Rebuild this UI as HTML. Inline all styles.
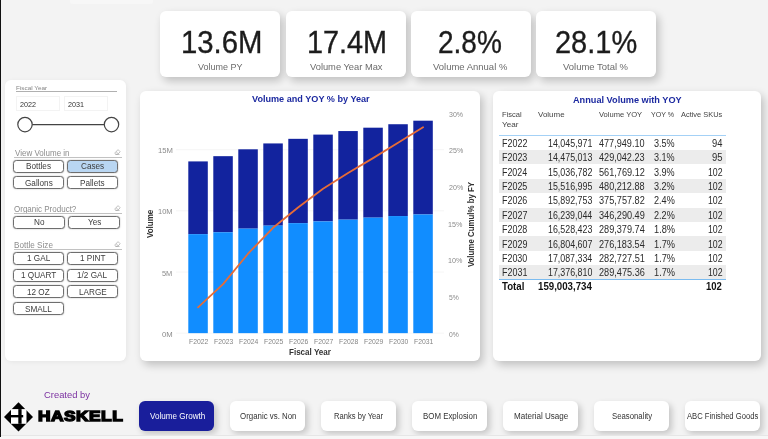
<!DOCTYPE html>
<html lang="en"><head><meta charset="utf-8"><title>Volume Growth</title>
<style>
html,body{margin:0;padding:0}
html{background:#f3f3f3}
body{width:768px;height:439px;position:relative;overflow:hidden;background:#f3f3f3;font-family:"Liberation Sans",sans-serif}
.page{position:absolute;left:0;top:0;width:768px;height:439px;filter:blur(0.55px)}
.abs{position:absolute;overflow:visible}
.t{position:absolute;white-space:nowrap;transform-origin:0 50%;display:block}
.card{position:absolute;background:#fff;border-radius:6px;box-shadow:3px 4px 8px rgba(0,0,0,.21)}
.slicers{box-shadow:1px 1px 5px rgba(0,0,0,.06)}
.ul{position:absolute;height:1px}
.inp{position:absolute;box-sizing:border-box;border:1px solid #f3f3f3;background:#fff}
.sb{position:absolute;box-sizing:border-box;border:1.2px solid #6e6e6e;border-radius:3.5px;background:#fff;box-shadow:0 0 1.5px rgba(0,0,0,.35)}
.sb.sel{background:#b9d6f2}
.row{position:absolute}
.nb{position:absolute;background:#fff;border-radius:6px;box-shadow:2.5px 3px 6px rgba(0,0,0,.19)}
.nb.sel{background:#191e9b}
.edgeL{position:absolute;left:0;top:0;width:1.25px;height:437px;background:#111}
.edgeB{position:absolute;left:0;top:434.8px;width:768px;height:5px;background:#f7f7f7;border-top:1px solid #e6e6e6}
</style></head>
<body>
<main class="page">
<section class="kpis">
<div class="card kpi" style="left:160px;top:11px;width:120px;height:66px">
<span class="t" style="left:21.03px;top:16.14px;font-size:31.5px;line-height:31.5px;color:#1c1c1c;transform:scaleX(0.9311);-webkit-text-stroke:0.35px #1c1c1c;">13.6M</span>
<span class="t" style="left:38.16px;top:51.47px;font-size:9.6px;line-height:9.6px;color:#6b6b6b;transform:scaleX(0.9356);">Volume PY</span>
</div>
<div class="card kpi" style="left:285.5px;top:11px;width:120px;height:66px">
<span class="t" style="left:21.57px;top:16.14px;font-size:31.5px;line-height:31.5px;color:#1c1c1c;transform:scaleX(0.9154);-webkit-text-stroke:0.35px #1c1c1c;">17.4M</span>
<span class="t" style="left:24.06px;top:51.47px;font-size:9.6px;line-height:9.6px;color:#6b6b6b;transform:scaleX(0.9707);">Volume Year Max</span>
</div>
<div class="card kpi" style="left:410.5px;top:11px;width:120px;height:66px">
<span class="t" style="left:27.85px;top:16.14px;font-size:31.5px;line-height:31.5px;color:#1c1c1c;transform:scaleX(0.8897);-webkit-text-stroke:0.35px #1c1c1c;">2.8%</span>
<span class="t" style="left:22.76px;top:51.47px;font-size:9.6px;line-height:9.6px;color:#6b6b6b;transform:scaleX(0.9882);">Volume Annual %</span>
</div>
<div class="card kpi" style="left:535.5px;top:11px;width:120px;height:66px">
<span class="t" style="left:19.31px;top:16.14px;font-size:31.5px;line-height:31.5px;color:#1c1c1c;transform:scaleX(0.9198);-webkit-text-stroke:0.35px #1c1c1c;">28.1%</span>
<span class="t" style="left:27.76px;top:51.47px;font-size:9.6px;line-height:9.6px;color:#6b6b6b;transform:scaleX(0.9860);">Volume Total %</span>
</div>
</section>
<aside class="card slicers" style="left:5.3px;top:79.5px;width:120.3px;height:281px">
<span class="t" style="left:10.58px;top:6.01px;font-size:5.9px;line-height:5.9px;color:#858585;transform:scaleX(1.0819);">Fiscal Year</span>
<div class="ul" style="left:11.0px;top:11.700000000000003px;width:100.5px;height:1.3px;background:#b0b0b0"></div>
<div class="inp" style="left:11.0px;top:16.900000000000006px;width:43.4px;height:15px"></div>
<span class="t" style="left:14.34px;top:21.67px;font-size:7.6px;line-height:7.6px;color:#333;transform:scaleX(0.9478);">2022</span>
<div class="inp" style="left:59.10000000000001px;top:16.900000000000006px;width:43.4px;height:15px"></div>
<span class="t" style="left:62.34px;top:21.67px;font-size:7.6px;line-height:7.6px;color:#333;transform:scaleX(0.9469);">2031</span>
<svg class="abs" style="left:4.7px;top:32.5px" width="112" height="24" viewBox="10 112 112 24"><line x1="25" y1="124.6" x2="111.5" y2="124.6" stroke="#444" stroke-width="1.3"/><circle cx="25" cy="124.6" r="7.2" fill="#fff" stroke="#444" stroke-width="1.2"/><circle cx="111.5" cy="124.6" r="7.2" fill="#fff" stroke="#444" stroke-width="1.2"/></svg>
<span class="t" style="left:9.27px;top:69.70px;font-size:8.5px;line-height:8.5px;color:#8c8c8c;transform:scaleX(0.9410);">View Volume in</span>
<svg class="abs" style="left:108.60000000000001px;top:69.4px" width="6.8" height="6.2" viewBox="0 0 16 14"><path d="M9.5 1.2 L14.6 6.3 L8.6 12.3 H4.6 L1.6 9.3 Z M4.9 6 L10 11 M3 12.6 H13" fill="none" stroke="#a8a8a8" stroke-width="1.7" stroke-linejoin="round"/></svg>
<div class="ul" style="left:9.2px;top:77.5px;width:107.5px;background:#c2c2c2"></div>
<div class="sb" style="left:7.8px;top:80.5px;width:50.8px;height:13px"></div>
<span class="t" style="left:20.50px;top:82.85px;font-size:8.8px;line-height:8.8px;color:#3c3c3c;transform:scaleX(0.9300);">Bottles</span>
<div class="sb sel" style="left:61.8px;top:80.5px;width:50.900000000000006px;height:13px"></div>
<span class="t" style="left:75.60px;top:82.85px;font-size:8.8px;line-height:8.8px;color:#3c3c3c;transform:scaleX(0.9300);">Cases</span>
<div class="sb" style="left:7.8px;top:96.9px;width:50.8px;height:13.0px"></div>
<span class="t" style="left:19.27px;top:99.25px;font-size:8.8px;line-height:8.8px;color:#3c3c3c;transform:scaleX(0.9300);">Gallons</span>
<div class="sb" style="left:61.8px;top:96.9px;width:50.900000000000006px;height:13.0px"></div>
<span class="t" style="left:74.78px;top:99.25px;font-size:8.8px;line-height:8.8px;color:#3c3c3c;transform:scaleX(0.9300);">Pallets</span>
<span class="t" style="left:8.92px;top:125.30px;font-size:8.5px;line-height:8.5px;color:#8c8c8c;transform:scaleX(0.9421);">Organic Product?</span>
<svg class="abs" style="left:108.60000000000001px;top:125.0px" width="6.8" height="6.2" viewBox="0 0 16 14"><path d="M9.5 1.2 L14.6 6.3 L8.6 12.3 H4.6 L1.6 9.3 Z M4.9 6 L10 11 M3 12.6 H13" fill="none" stroke="#a8a8a8" stroke-width="1.7" stroke-linejoin="round"/></svg>
<div class="ul" style="left:9.2px;top:133.25px;width:107.5px;background:#c2c2c2"></div>
<div class="sb" style="left:7.8px;top:136.1px;width:51.699999999999996px;height:13.099999999999994px"></div>
<span class="t" style="left:28.25px;top:138.50px;font-size:8.8px;line-height:8.8px;color:#3c3c3c;transform:scaleX(0.9300);">No</span>
<div class="sb" style="left:63.10000000000001px;top:136.1px;width:52.0px;height:13.099999999999994px"></div>
<span class="t" style="left:82.48px;top:138.50px;font-size:8.8px;line-height:8.8px;color:#3c3c3c;transform:scaleX(0.9300);">Yes</span>
<span class="t" style="left:8.63px;top:161.30px;font-size:8.5px;line-height:8.5px;color:#8c8c8c;transform:scaleX(0.9581);">Bottle Size</span>
<svg class="abs" style="left:108.60000000000001px;top:161.0px" width="6.8" height="6.2" viewBox="0 0 16 14"><path d="M9.5 1.2 L14.6 6.3 L8.6 12.3 H4.6 L1.6 9.3 Z M4.9 6 L10 11 M3 12.6 H13" fill="none" stroke="#a8a8a8" stroke-width="1.7" stroke-linejoin="round"/></svg>
<div class="ul" style="left:9.2px;top:169.0px;width:107.5px;background:#c2c2c2"></div>
<div class="sb" style="left:7.8px;top:172.5px;width:50.8px;height:13px"></div>
<span class="t" style="left:21.42px;top:174.85px;font-size:8.8px;line-height:8.8px;color:#3c3c3c;transform:scaleX(0.9300);">1 GAL</span>
<div class="sb" style="left:61.8px;top:172.5px;width:50.900000000000006px;height:13px"></div>
<span class="t" style="left:74.30px;top:174.85px;font-size:8.8px;line-height:8.8px;color:#3c3c3c;transform:scaleX(0.9300);">1 PINT</span>
<div class="sb" style="left:7.8px;top:189.2px;width:50.8px;height:13.0px"></div>
<span class="t" style="left:15.32px;top:191.55px;font-size:8.8px;line-height:8.8px;color:#3c3c3c;transform:scaleX(0.9300);">1 QUART</span>
<div class="sb" style="left:61.8px;top:189.2px;width:50.900000000000006px;height:13.0px"></div>
<span class="t" style="left:72.06px;top:191.55px;font-size:8.8px;line-height:8.8px;color:#3c3c3c;transform:scaleX(0.9300);">1/2 GAL</span>
<div class="sb" style="left:7.8px;top:205.89999999999998px;width:50.8px;height:13.0px"></div>
<span class="t" style="left:21.64px;top:208.25px;font-size:8.8px;line-height:8.8px;color:#3c3c3c;transform:scaleX(0.9300);">12 OZ</span>
<div class="sb" style="left:61.8px;top:205.89999999999998px;width:50.900000000000006px;height:13.0px"></div>
<span class="t" style="left:73.21px;top:208.25px;font-size:8.8px;line-height:8.8px;color:#3c3c3c;transform:scaleX(0.9300);">LARGE</span>
<div class="sb" style="left:7.8px;top:222.7px;width:50.8px;height:13.100000000000023px"></div>
<span class="t" style="left:19.73px;top:225.10px;font-size:8.8px;line-height:8.8px;color:#3c3c3c;transform:scaleX(0.9300);">SMALL</span>
</aside>
<section class="card chart" style="left:140px;top:91.25px;width:339.5px;height:269.25px">
<span class="t" style="left:111.55px;top:4.16px;font-size:9.2px;line-height:9.2px;color:#1d2aa0;transform:scaleX(0.9900);font-weight:700;">Volume and YOY % by Year</span>
<svg class="abs" style="left:0;top:0" width="339.5" height="269.25" viewBox="140 91.25 339.5 269.25"><line x1="176" y1="150" x2="444" y2="150" stroke="#f3f3f3" stroke-width="0.8"/><line x1="176" y1="211.1" x2="444" y2="211.1" stroke="#f3f3f3" stroke-width="0.8"/><line x1="176" y1="272.3" x2="444" y2="272.3" stroke="#f3f3f3" stroke-width="0.8"/><line x1="176" y1="333.4" x2="444" y2="333.4" stroke="#f3f3f3" stroke-width="0.8"/><rect x="188.30" y="161.66" width="19.5" height="72.74" fill="#12239e"/><rect x="188.30" y="234.40" width="19.5" height="99.00" fill="#118dff"/><rect x="213.30" y="156.42" width="19.5" height="76.08" fill="#12239e"/><rect x="213.30" y="232.50" width="19.5" height="100.90" fill="#118dff"/><rect x="238.30" y="149.55" width="19.5" height="79.35" fill="#12239e"/><rect x="238.30" y="228.90" width="19.5" height="104.50" fill="#118dff"/><rect x="263.30" y="143.68" width="19.5" height="82.22" fill="#12239e"/><rect x="263.30" y="225.90" width="19.5" height="107.50" fill="#118dff"/><rect x="288.30" y="139.08" width="19.5" height="84.32" fill="#12239e"/><rect x="288.30" y="223.40" width="19.5" height="110.00" fill="#118dff"/><rect x="313.30" y="134.85" width="19.5" height="86.80" fill="#12239e"/><rect x="313.30" y="221.65" width="19.5" height="111.75" fill="#118dff"/><rect x="338.30" y="131.31" width="19.5" height="88.59" fill="#12239e"/><rect x="338.30" y="219.90" width="19.5" height="113.50" fill="#118dff"/><rect x="363.30" y="127.94" width="19.5" height="89.96" fill="#12239e"/><rect x="363.30" y="217.90" width="19.5" height="115.50" fill="#118dff"/><rect x="388.30" y="124.48" width="19.5" height="91.82" fill="#12239e"/><rect x="388.30" y="216.30" width="19.5" height="117.10" fill="#118dff"/><rect x="413.30" y="120.94" width="19.5" height="93.76" fill="#12239e"/><rect x="413.30" y="214.70" width="19.5" height="118.70" fill="#118dff"/><polyline points="198.05,307.56 223.05,284.36 248.05,253.98 273.05,228.01 298.05,207.69 323.05,188.97 348.05,173.32 373.05,158.39 398.05,143.10 423.05,127.45" fill="none" stroke="#e66c37" stroke-width="1.8" stroke-linejoin="round" stroke-linecap="round"/></svg>
<span class="t" style="left:17.67px;top:55.99px;font-size:7.4px;line-height:7.4px;color:#8a8a8a;transform:scaleX(1.0398);">15M</span>
<span class="t" style="left:18.03px;top:117.09px;font-size:7.4px;line-height:7.4px;color:#8a8a8a;transform:scaleX(1.0133);">10M</span>
<span class="t" style="left:22.30px;top:178.29px;font-size:7.4px;line-height:7.4px;color:#8a8a8a;transform:scaleX(1.0026);">5M</span>
<span class="t" style="left:21.90px;top:239.39px;font-size:7.4px;line-height:7.4px;color:#8a8a8a;transform:scaleX(1.0444);">0M</span>
<span class="t" style="left:308.63px;top:19.29px;font-size:7.4px;line-height:7.4px;color:#8a8a8a;transform:scaleX(0.9532);">30%</span>
<span class="t" style="left:308.55px;top:55.97px;font-size:7.4px;line-height:7.4px;color:#8a8a8a;transform:scaleX(0.9592);">25%</span>
<span class="t" style="left:308.55px;top:92.65px;font-size:7.4px;line-height:7.4px;color:#8a8a8a;transform:scaleX(0.9592);">20%</span>
<span class="t" style="left:308.35px;top:129.34px;font-size:7.4px;line-height:7.4px;color:#8a8a8a;transform:scaleX(0.9724);">15%</span>
<span class="t" style="left:308.35px;top:166.02px;font-size:7.4px;line-height:7.4px;color:#8a8a8a;transform:scaleX(0.9724);">10%</span>
<span class="t" style="left:308.63px;top:202.70px;font-size:7.4px;line-height:7.4px;color:#8a8a8a;transform:scaleX(0.9173);">5%</span>
<span class="t" style="left:308.64px;top:239.39px;font-size:7.4px;line-height:7.4px;color:#8a8a8a;transform:scaleX(0.9167);">0%</span>
<span class="t" style="left:48.64px;top:246.39px;font-size:7.4px;line-height:7.4px;color:#858585;transform:scaleX(0.9249);">F2022</span>
<span class="t" style="left:73.64px;top:246.39px;font-size:7.4px;line-height:7.4px;color:#858585;transform:scaleX(0.9225);">F2023</span>
<span class="t" style="left:98.64px;top:246.39px;font-size:7.4px;line-height:7.4px;color:#858585;transform:scaleX(0.9178);">F2024</span>
<span class="t" style="left:123.64px;top:246.39px;font-size:7.4px;line-height:7.4px;color:#858585;transform:scaleX(0.9218);">F2025</span>
<span class="t" style="left:148.64px;top:246.39px;font-size:7.4px;line-height:7.4px;color:#858585;transform:scaleX(0.9225);">F2026</span>
<span class="t" style="left:173.64px;top:246.39px;font-size:7.4px;line-height:7.4px;color:#858585;transform:scaleX(0.9249);">F2027</span>
<span class="t" style="left:198.64px;top:246.39px;font-size:7.4px;line-height:7.4px;color:#858585;transform:scaleX(0.9225);">F2028</span>
<span class="t" style="left:223.64px;top:246.39px;font-size:7.4px;line-height:7.4px;color:#858585;transform:scaleX(0.9239);">F2029</span>
<span class="t" style="left:248.64px;top:246.39px;font-size:7.4px;line-height:7.4px;color:#858585;transform:scaleX(0.9208);">F2030</span>
<span class="t" style="left:273.64px;top:246.39px;font-size:7.4px;line-height:7.4px;color:#858585;transform:scaleX(0.9242);">F2031</span>
<span class="t" style="left:148.97px;top:256.43px;font-size:9px;line-height:9px;color:#333;transform:scaleX(0.8938);font-weight:700;">Fiscal Year</span>
<span class="t" style="left:13.37px;top:139.49px;font-size:8.4px;line-height:8.4px;color:#333;transform-origin:0 7.11px;transform:rotate(-90deg) scaleX(0.9600);font-weight:700;">Volume</span>
<span class="t" style="left:334.37px;top:168.29px;font-size:8.4px;line-height:8.4px;color:#333;transform-origin:0 7.11px;transform:rotate(-90deg) scaleX(0.9408);font-weight:700;">Volume Cumul% by FY</span>
</section>
<section class="card table" style="left:493.25px;top:91.25px;width:268px;height:269.25px">
<span class="t" style="left:79.73px;top:4.36px;font-size:9.2px;line-height:9.2px;color:#1d2aa0;transform:scaleX(0.9974);font-weight:700;">Annual Volume with YOY</span>
<span class="t" style="left:8.93px;top:19.86px;font-size:7.9px;line-height:7.9px;color:#444;transform:scaleX(0.9559);">Fiscal</span>
<span class="t" style="left:8.77px;top:30.06px;font-size:7.9px;line-height:7.9px;color:#444;transform:scaleX(1.0341);">Year</span>
<span class="t" style="left:44.37px;top:19.86px;font-size:7.9px;line-height:7.9px;color:#444;transform:scaleX(1.0109);">Volume</span>
<span class="t" style="left:106.12px;top:19.86px;font-size:7.9px;line-height:7.9px;color:#444;transform:scaleX(0.9581);">Volume YOY</span>
<span class="t" style="left:157.99px;top:19.86px;font-size:7.9px;line-height:7.9px;color:#444;transform:scaleX(0.8968);">YOY %</span>
<span class="t" style="left:188.14px;top:19.86px;font-size:7.9px;line-height:7.9px;color:#444;transform:scaleX(0.9404);">Active SKUs</span>
<div class="ul" style="left:5.75px;top:43.349999999999994px;width:226.5px;height:1.2px;background:#a4d1f6"></div>
<div class="row" style="left:5.75px;top:44.45px;width:226.5px;height:14.37px;background:transparent">
<span class="t" style="left:2.87px;top:3.22px;font-size:10.0px;line-height:10.0px;color:#2b2b2b;transform:scaleX(0.8953);">F2022</span>
<span class="t" style="left:49.03px;top:3.22px;font-size:10.0px;line-height:10.0px;color:#2b2b2b;transform:scaleX(0.8871);">14,045,971</span>
<span class="t" style="left:100.20px;top:3.22px;font-size:10.0px;line-height:10.0px;color:#2b2b2b;transform:scaleX(0.9100);">477,949.10</span>
<span class="t" style="left:155.46px;top:3.22px;font-size:10.0px;line-height:10.0px;color:#2b2b2b;transform:scaleX(0.9066);">3.5%</span>
<span class="t" style="left:212.77px;top:3.22px;font-size:10.0px;line-height:10.0px;color:#2b2b2b;transform:scaleX(0.9354);">94</span>
</div>
<div class="row" style="left:5.75px;top:58.82px;width:226.5px;height:14.37px;background:#ececec">
<span class="t" style="left:2.87px;top:3.22px;font-size:10.0px;line-height:10.0px;color:#2b2b2b;transform:scaleX(0.8930);">F2023</span>
<span class="t" style="left:49.03px;top:3.22px;font-size:10.0px;line-height:10.0px;color:#2b2b2b;transform:scaleX(0.8862);">14,475,013</span>
<span class="t" style="left:100.20px;top:3.22px;font-size:10.0px;line-height:10.0px;color:#2b2b2b;transform:scaleX(0.9109);">429,042.23</span>
<span class="t" style="left:155.46px;top:3.22px;font-size:10.0px;line-height:10.0px;color:#2b2b2b;transform:scaleX(0.9066);">3.1%</span>
<span class="t" style="left:212.76px;top:3.22px;font-size:10.0px;line-height:10.0px;color:#2b2b2b;transform:scaleX(0.9463);">95</span>
</div>
<div class="row" style="left:5.75px;top:73.19px;width:226.5px;height:14.37px;background:transparent">
<span class="t" style="left:2.87px;top:3.22px;font-size:10.0px;line-height:10.0px;color:#2b2b2b;transform:scaleX(0.8884);">F2024</span>
<span class="t" style="left:49.03px;top:3.22px;font-size:10.0px;line-height:10.0px;color:#2b2b2b;transform:scaleX(0.8875);">15,036,782</span>
<span class="t" style="left:100.03px;top:3.22px;font-size:10.0px;line-height:10.0px;color:#2b2b2b;transform:scaleX(0.9156);">561,769.12</span>
<span class="t" style="left:155.46px;top:3.22px;font-size:10.0px;line-height:10.0px;color:#2b2b2b;transform:scaleX(0.9066);">3.9%</span>
<span class="t" style="left:208.73px;top:3.22px;font-size:10.0px;line-height:10.0px;color:#2b2b2b;transform:scaleX(0.8755);">102</span>
</div>
<div class="row" style="left:5.75px;top:87.56px;width:226.5px;height:14.37px;background:#ececec">
<span class="t" style="left:2.87px;top:3.22px;font-size:10.0px;line-height:10.0px;color:#2b2b2b;transform:scaleX(0.8923);">F2025</span>
<span class="t" style="left:49.03px;top:3.22px;font-size:10.0px;line-height:10.0px;color:#2b2b2b;transform:scaleX(0.8858);">15,516,995</span>
<span class="t" style="left:100.20px;top:3.22px;font-size:10.0px;line-height:10.0px;color:#2b2b2b;transform:scaleX(0.9109);">480,212.88</span>
<span class="t" style="left:155.46px;top:3.22px;font-size:10.0px;line-height:10.0px;color:#2b2b2b;transform:scaleX(0.9066);">3.2%</span>
<span class="t" style="left:208.73px;top:3.22px;font-size:10.0px;line-height:10.0px;color:#2b2b2b;transform:scaleX(0.8755);">102</span>
</div>
<div class="row" style="left:5.75px;top:101.93px;width:226.5px;height:14.37px;background:transparent">
<span class="t" style="left:2.87px;top:3.22px;font-size:10.0px;line-height:10.0px;color:#2b2b2b;transform:scaleX(0.8930);">F2026</span>
<span class="t" style="left:49.03px;top:3.22px;font-size:10.0px;line-height:10.0px;color:#2b2b2b;transform:scaleX(0.8862);">15,892,753</span>
<span class="t" style="left:100.05px;top:3.22px;font-size:10.0px;line-height:10.0px;color:#2b2b2b;transform:scaleX(0.9152);">375,757.82</span>
<span class="t" style="left:155.34px;top:3.22px;font-size:10.0px;line-height:10.0px;color:#2b2b2b;transform:scaleX(0.9116);">2.4%</span>
<span class="t" style="left:208.73px;top:3.22px;font-size:10.0px;line-height:10.0px;color:#2b2b2b;transform:scaleX(0.8755);">102</span>
</div>
<div class="row" style="left:5.75px;top:116.30px;width:226.5px;height:14.37px;background:#ececec">
<span class="t" style="left:2.87px;top:3.22px;font-size:10.0px;line-height:10.0px;color:#2b2b2b;transform:scaleX(0.8953);">F2027</span>
<span class="t" style="left:49.03px;top:3.22px;font-size:10.0px;line-height:10.0px;color:#2b2b2b;transform:scaleX(0.8837);">16,239,044</span>
<span class="t" style="left:100.05px;top:3.22px;font-size:10.0px;line-height:10.0px;color:#2b2b2b;transform:scaleX(0.9146);">346,290.49</span>
<span class="t" style="left:155.34px;top:3.22px;font-size:10.0px;line-height:10.0px;color:#2b2b2b;transform:scaleX(0.9116);">2.2%</span>
<span class="t" style="left:208.73px;top:3.22px;font-size:10.0px;line-height:10.0px;color:#2b2b2b;transform:scaleX(0.8755);">102</span>
</div>
<div class="row" style="left:5.75px;top:130.67px;width:226.5px;height:14.37px;background:transparent">
<span class="t" style="left:2.87px;top:3.22px;font-size:10.0px;line-height:10.0px;color:#2b2b2b;transform:scaleX(0.8930);">F2028</span>
<span class="t" style="left:49.03px;top:3.22px;font-size:10.0px;line-height:10.0px;color:#2b2b2b;transform:scaleX(0.8862);">16,528,423</span>
<span class="t" style="left:99.94px;top:3.22px;font-size:10.0px;line-height:10.0px;color:#2b2b2b;transform:scaleX(0.9135);">289,379.74</span>
<span class="t" style="left:155.10px;top:3.22px;font-size:10.0px;line-height:10.0px;color:#2b2b2b;transform:scaleX(0.9225);">1.8%</span>
<span class="t" style="left:208.73px;top:3.22px;font-size:10.0px;line-height:10.0px;color:#2b2b2b;transform:scaleX(0.8755);">102</span>
</div>
<div class="row" style="left:5.75px;top:145.04px;width:226.5px;height:14.37px;background:#ececec">
<span class="t" style="left:2.87px;top:3.22px;font-size:10.0px;line-height:10.0px;color:#2b2b2b;transform:scaleX(0.8943);">F2029</span>
<span class="t" style="left:49.03px;top:3.22px;font-size:10.0px;line-height:10.0px;color:#2b2b2b;transform:scaleX(0.8875);">16,804,607</span>
<span class="t" style="left:99.94px;top:3.22px;font-size:10.0px;line-height:10.0px;color:#2b2b2b;transform:scaleX(0.9135);">276,183.54</span>
<span class="t" style="left:155.10px;top:3.22px;font-size:10.0px;line-height:10.0px;color:#2b2b2b;transform:scaleX(0.9225);">1.7%</span>
<span class="t" style="left:208.73px;top:3.22px;font-size:10.0px;line-height:10.0px;color:#2b2b2b;transform:scaleX(0.8755);">102</span>
</div>
<div class="row" style="left:5.75px;top:159.41px;width:226.5px;height:14.37px;background:transparent">
<span class="t" style="left:2.87px;top:3.22px;font-size:10.0px;line-height:10.0px;color:#2b2b2b;transform:scaleX(0.8913);">F2030</span>
<span class="t" style="left:49.03px;top:3.22px;font-size:10.0px;line-height:10.0px;color:#2b2b2b;transform:scaleX(0.8837);">17,087,334</span>
<span class="t" style="left:99.94px;top:3.22px;font-size:10.0px;line-height:10.0px;color:#2b2b2b;transform:scaleX(0.9171);">282,727.51</span>
<span class="t" style="left:155.10px;top:3.22px;font-size:10.0px;line-height:10.0px;color:#2b2b2b;transform:scaleX(0.9225);">1.7%</span>
<span class="t" style="left:208.73px;top:3.22px;font-size:10.0px;line-height:10.0px;color:#2b2b2b;transform:scaleX(0.8755);">102</span>
</div>
<div class="row" style="left:5.75px;top:173.78px;width:226.5px;height:14.37px;background:#ececec">
<span class="t" style="left:2.87px;top:3.22px;font-size:10.0px;line-height:10.0px;color:#2b2b2b;transform:scaleX(0.8946);">F2031</span>
<span class="t" style="left:49.03px;top:3.22px;font-size:10.0px;line-height:10.0px;color:#2b2b2b;transform:scaleX(0.8853);">17,376,810</span>
<span class="t" style="left:99.94px;top:3.22px;font-size:10.0px;line-height:10.0px;color:#2b2b2b;transform:scaleX(0.9161);">289,475.36</span>
<span class="t" style="left:155.10px;top:3.22px;font-size:10.0px;line-height:10.0px;color:#2b2b2b;transform:scaleX(0.9225);">1.7%</span>
<span class="t" style="left:208.73px;top:3.22px;font-size:10.0px;line-height:10.0px;color:#2b2b2b;transform:scaleX(0.8755);">102</span>
</div>
<div class="ul" style="left:5.75px;top:187.45px;width:226.5px;height:1.2px;background:#7cbcf0"></div>
<span class="t" style="left:9.24px;top:190.59px;font-size:10.0px;line-height:10.0px;color:#111;transform:scaleX(0.9669);font-weight:700;">Total</span>
<span class="t" style="left:44.95px;top:190.59px;font-size:10.0px;line-height:10.0px;color:#111;transform:scaleX(0.9683);font-weight:700;">159,003,734</span>
<span class="t" style="left:213.16px;top:190.59px;font-size:10.0px;line-height:10.0px;color:#111;transform:scaleX(0.9509);font-weight:700;">102</span>
</section>
<div class="abs" style="left:70px;top:-4px;width:83px;height:8px;border-radius:3px;background:#f7f7f7"></div>
<footer>
<span class="t" style="left:44.23px;top:389.59px;font-size:9.7px;line-height:9.7px;color:#7a2fa0;transform:scaleX(0.9692);">Created by</span>
<svg class="abs" style="left:4px;top:401.5px" width="29" height="30" viewBox="4 401.5 29 30"><path d="M18.5 401.8 L33 416.4 L18.5 431 L4 416.4 Z" fill="#000"/><rect x="11" y="408.6" width="15.5" height="14.7" fill="#fff"/><rect x="18.3" y="408.6" width="3.3" height="14.7" fill="#000"/><rect x="11" y="414.5" width="12.2" height="2.4" fill="#000"/></svg>
<span class="t" style="left:38.40px;top:409.31px;font-size:14.4px;line-height:14.4px;color:#000;transform:scaleX(1.2043);font-weight:700;letter-spacing:0.4px;-webkit-text-stroke:1.4px #000;">HASKELL</span>
<nav>
<div class="nb sel" style="left:139.40px;top:401px;width:74.7px;height:29.5px">
<span class="t" style="left:10.12px;top:11.10px;font-size:8.5px;line-height:8.5px;color:#fff;transform:scaleX(0.9508);">Volume Growth</span>
</div>
<div class="nb" style="left:230.40px;top:401px;width:74.7px;height:29.5px">
<span class="t" style="left:9.33px;top:11.10px;font-size:8.5px;line-height:8.5px;color:#333;transform:scaleX(0.9268);">Organic vs. Non</span>
</div>
<div class="nb" style="left:321.40px;top:401px;width:74.7px;height:29.5px">
<span class="t" style="left:12.73px;top:11.10px;font-size:8.5px;line-height:8.5px;color:#333;transform:scaleX(0.8947);">Ranks by Year</span>
</div>
<div class="nb" style="left:412.40px;top:401px;width:74.7px;height:29.5px">
<span class="t" style="left:10.25px;top:11.10px;font-size:8.5px;line-height:8.5px;color:#333;transform:scaleX(0.9279);">BOM Explosion</span>
</div>
<div class="nb" style="left:503.40px;top:401px;width:74.7px;height:29.5px">
<span class="t" style="left:10.24px;top:11.10px;font-size:8.5px;line-height:8.5px;color:#333;transform:scaleX(0.9485);">Material Usage</span>
</div>
<div class="nb" style="left:594.40px;top:401px;width:74.7px;height:29.5px">
<span class="t" style="left:17.25px;top:11.10px;font-size:8.5px;line-height:8.5px;color:#333;transform:scaleX(0.9140);">Seasonality</span>
</div>
<div class="nb" style="left:685.40px;top:401px;width:74.7px;height:29.5px">
<span class="t" style="left:2.03px;top:11.10px;font-size:8.5px;line-height:8.5px;color:#333;transform:scaleX(0.8969);">ABC Finished Goods</span>
</div>
</nav>
</footer>
<div class="edgeB"></div><div class="edgeL"></div>
</main>
</body></html>
